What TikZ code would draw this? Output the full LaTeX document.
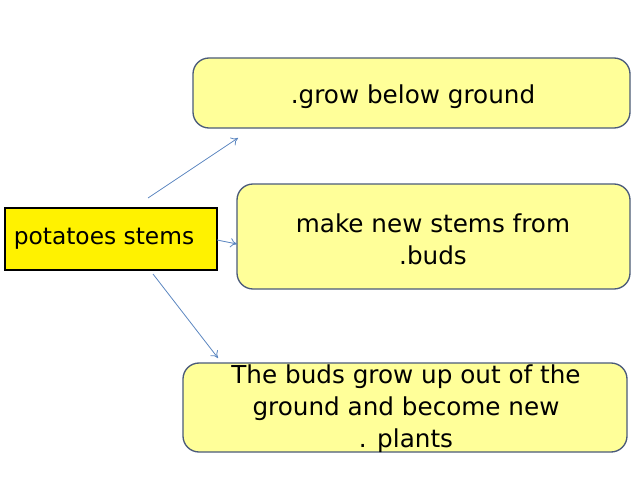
\documentclass[tikz,border=0pt]{standalone}
\usepackage{fontspec}
\setmainfont{DejaVu Sans}
\usetikzlibrary{arrows.meta}
\definecolor{lightyel}{HTML}{FFFF99}
\definecolor{edge}{HTML}{4A5A7A}
\definecolor{arrc}{HTML}{5B86C0}
\begin{document}
\begin{tikzpicture}[x=0.75pt,y=-0.75pt,
  bigbox/.style={draw=edge,line width=1pt,fill=lightyel,rounded corners=12pt},
  arr/.style={draw=arrc,line width=0.6pt,-{To[length=5pt,width=7pt]}},
  txt/.style={font=\fontsize{18.5}{24}\selectfont,align=center}]
\useasboundingbox (0,0) rectangle (638,478);
\draw[fill=yellow,draw=black,line width=0.8pt] (5,208) rectangle (217,270);
\node[font=\fontsize{17.5}{20}\selectfont] (ps) at (104,239) {potatoes stems};
\draw[bigbox] (193,58) rectangle (630,128);
\node[txt] (b1) at (413,97) {.grow below ground};
\draw[bigbox] (237,184) rectangle (630,289);
\node[txt] (b2) at (433,239) {make new stems from\\.buds};
\draw[bigbox] (183,363) rectangle (627,452);
\node[txt] (b3) at (406,409) {The buds grow up out of the\\ground and become new\\. plants};
\coordinate (a1s) at (148,198); \coordinate (a1e) at (238,138);
\coordinate (a2s) at (217,240); \coordinate (a2e) at (237,244);
\coordinate (a3s) at (153,274); \coordinate (a3e) at (218,358);
\draw[arr] (a1s) -- (a1e);
\draw[arr] (a2s) -- (a2e);
\draw[arr] (a3s) -- (a3e);
\end{tikzpicture}
\end{document}
